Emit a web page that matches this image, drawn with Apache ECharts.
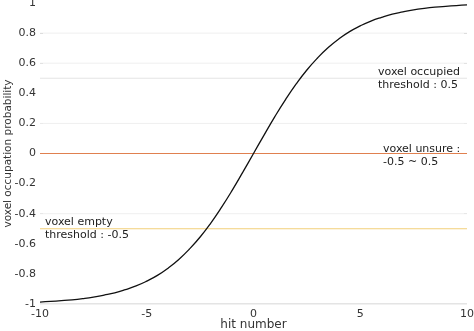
<!DOCTYPE html>
<html>
<head>
<meta charset="utf-8">
<script src="https://cdn.jsdelivr.net/npm/echarts@6/dist/echarts.min.js"></script>
<style>
  html, body { margin: 0; padding: 0; background: #fff; }
  #chart { width: 474px; height: 331px; }
</style>
</head>
<body>
<div id="chart"></div>
<script>
// Hit number (log-odds updates) and the resulting occupation probability
const hitNumbers = [
  -10, -9.5, -9, -8.5, -8, -7.5, -7, -6.5, -6, -5.5, -5, -4.5, -4, -3.5, -3, -2.5, -2, -1.5, -1, -0.5,
  0, 0.5, 1, 1.5, 2, 2.5, 3, 3.5, 4, 4.5, 5, 5.5, 6, 6.5, 7, 7.5, 8, 8.5, 9, 9.5, 10
];
const occupationProbability = [
  -0.987, -0.983, -0.978, -0.972, -0.964, -0.954, -0.941, -0.926, -0.905, -0.880, -0.848, -0.810, -0.762, -0.704, -0.635, -0.555, -0.462, -0.358, -0.245, -0.124,
  0, 0.124, 0.245, 0.358, 0.462, 0.555, 0.635, 0.704, 0.762, 0.810, 0.848, 0.880, 0.905, 0.926, 0.941, 0.954, 0.964, 0.972, 0.978, 0.983, 0.987
];
const xRange = [-10, 10];
const yRange = [-1, 1];

// Faint reference lines across the plot
const gridValues = [0.8, 0.6, 0.2, -0.4];

// Classification thresholds and their captions
const thresholdValues = [0.5, 0, -0.5];
const thresholdLabels = [
  'voxel occupied\nthreshold : 0.5',
  'voxel unsure :\n-0.5 ~ 0.5',
  'voxel empty\nthreshold : -0.5'
];
const thresholdColors = ['#e4e4e4', '#e0804f', '#f2cf78'];
const thresholdLabelPos = ['insideEnd', 'insideEnd', 'insideStart'];
// Captions are left-aligned blocks; the right-hand ones are shifted back from the line end
const thresholdLabelOffset = [[-84, 0], [-79, 2], [0, 0]];

const FONT = 'DejaVu Sans';
const chart = echarts.init(document.getElementById('chart'), null, { renderer: 'canvas' });

const tickCommon = {
  show: true,
  inside: true,
  length: 3,
  customValues: gridValues,
  lineStyle: { color: '#c4c4c4', width: 1 }
};

// A horizontal line spanning the x range, drawn as a two-point line series
function hLineSeries(value, color, width, z) {
  return {
    type: 'line',
    z: z,
    silent: true,
    showSymbol: false,
    symbol: 'none',
    data: xRange.map(x => [x, value]),
    lineStyle: { color: color, width: width, type: 'solid' },
    itemStyle: { color: color },
    emphasis: { disabled: true }
  };
}

const series = gridValues.map(v => hLineSeries(v, '#efefef', 1, 3));
// baseline along the bottom of the plot
series.push(hLineSeries(yRange[0], '#c8c8c8', 1, 3));
thresholdValues.forEach((v, i) => {
  series.push(hLineSeries(v, thresholdColors[i], 1.2, 40));
});

// Captions, each anchored to its threshold value
const captionLines = thresholdValues.map((v, i) => ({
  yAxis: v,
  label: {
    show: true,
    formatter: thresholdLabels[i],
    position: thresholdLabelPos[i],
    distance: 5,
    offset: thresholdLabelOffset[i],
    align: 'left',
    color: '#222',
    fontFamily: FONT,
    fontSize: 11,
    lineHeight: 13
  }
}));

series.push({
  type: 'line',
  z: 45,
  data: hitNumbers.map((x, i) => [x, occupationProbability[i]]),
  smooth: true,
  showSymbol: false,
  lineStyle: { color: '#111', width: 1.3 },
  markLine: {
    silent: true,
    symbol: 'none',
    animation: false,
    lineStyle: { color: 'rgba(255,255,255,0)', width: 0 },
    data: captionLines
  }
});

chart.setOption({
  animation: false,
  backgroundColor: '#ffffff',
  grid: { left: 40, right: 7, top: 3, bottom: 27, containLabel: false, outerBoundsMode: 'none' },
  xAxis: {
    type: 'value',
    min: xRange[0],
    max: xRange[1],
    interval: 5,
    name: 'hit number',
    nameLocation: 'middle',
    nameGap: 15,
    nameMoveOverlap: false,
    nameTextStyle: { fontFamily: FONT, fontSize: 12, color: '#333' },
    axisLine: { show: false, onZero: false },
    axisTick: { show: false },
    splitLine: { show: false },
    axisLabel: { fontFamily: FONT, fontSize: 11, color: '#333', margin: 5 }
  },
  yAxis: [{
    type: 'value',
    min: yRange[0],
    max: yRange[1],
    interval: 0.2,
    name: 'voxel occupation probability',
    nameLocation: 'middle',
    nameGap: 26,
    nameMoveOverlap: false,
    nameTextStyle: { fontFamily: FONT, fontSize: 10.5, color: '#333' },
    axisLine: { show: false, onZero: false },
    axisTick: tickCommon,
    splitLine: { show: false },
    axisLabel: { fontFamily: FONT, fontSize: 11, color: '#333', margin: 4 }
  }, {
    type: 'value',
    position: 'right',
    min: yRange[0],
    max: yRange[1],
    interval: 0.2,
    axisLine: { show: false, onZero: false },
    axisTick: tickCommon,
    splitLine: { show: false },
    axisLabel: { show: false }
  }],
  series: series
});
</script>
</body>
</html>
